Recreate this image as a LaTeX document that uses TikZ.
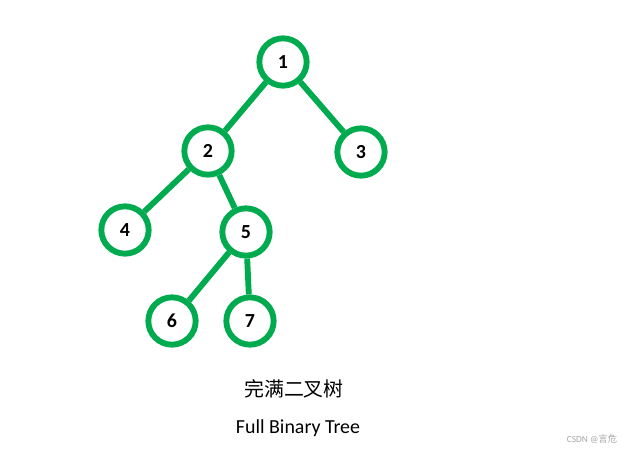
\documentclass[tikz,border=0pt]{standalone}
\usepackage{fontspec}
\setmainfont{Carlito}
\newfontfamily\cjk{Noto Sans CJK SC}
\usepackage{xcolor}
\usetikzlibrary{positioning}
\definecolor{treegreen}{RGB}{0,171,80}

\begin{document}
\begin{tikzpicture}[
  x=0.03cm, y=-0.03cm,
  vertex/.style={circle, draw=treegreen, line width=5pt, minimum size=1.42cm, inner sep=0pt, font=\fontsize{17}{17}\selectfont\bfseries},
  edge/.style={treegreen, line width=5pt}
]
\useasboundingbox (0,0) rectangle (641,454);

% Vertices
\node[vertex] (n1) at (283,62) {1};
\node[vertex] (n2) at (208,151) {2};
\node[vertex] (n3) at (361,152) {3};
\node[vertex] (n4) at (125,230) {4};
\node[vertex] (n5) at (246,232) {5};
\node[vertex] (n6) at (172,321) {6};
\node[vertex] (n7) at (250,321) {7};

% Edges
\draw[edge] (n1) -- (n2);
\draw[edge] (n1) -- (n3);
\draw[edge] (n2) -- (n4);
\draw[edge] (n2) -- (n5);
\draw[edge] (n5) -- (n6);
\draw[edge] (n5) -- (n7);

% Captions
\node (cn) at (294,389) {\cjk\fontsize{17}{17}\selectfont 完满二叉树};
\node (en) at (298,428) {\fontsize{17}{17}\selectfont Full Binary Tree};
\node[text=gray!70, font=\fontsize{8}{8}\selectfont] (mark) at (592,439) {CSDN @{\cjk 言危}};
\end{tikzpicture}
\end{document}
